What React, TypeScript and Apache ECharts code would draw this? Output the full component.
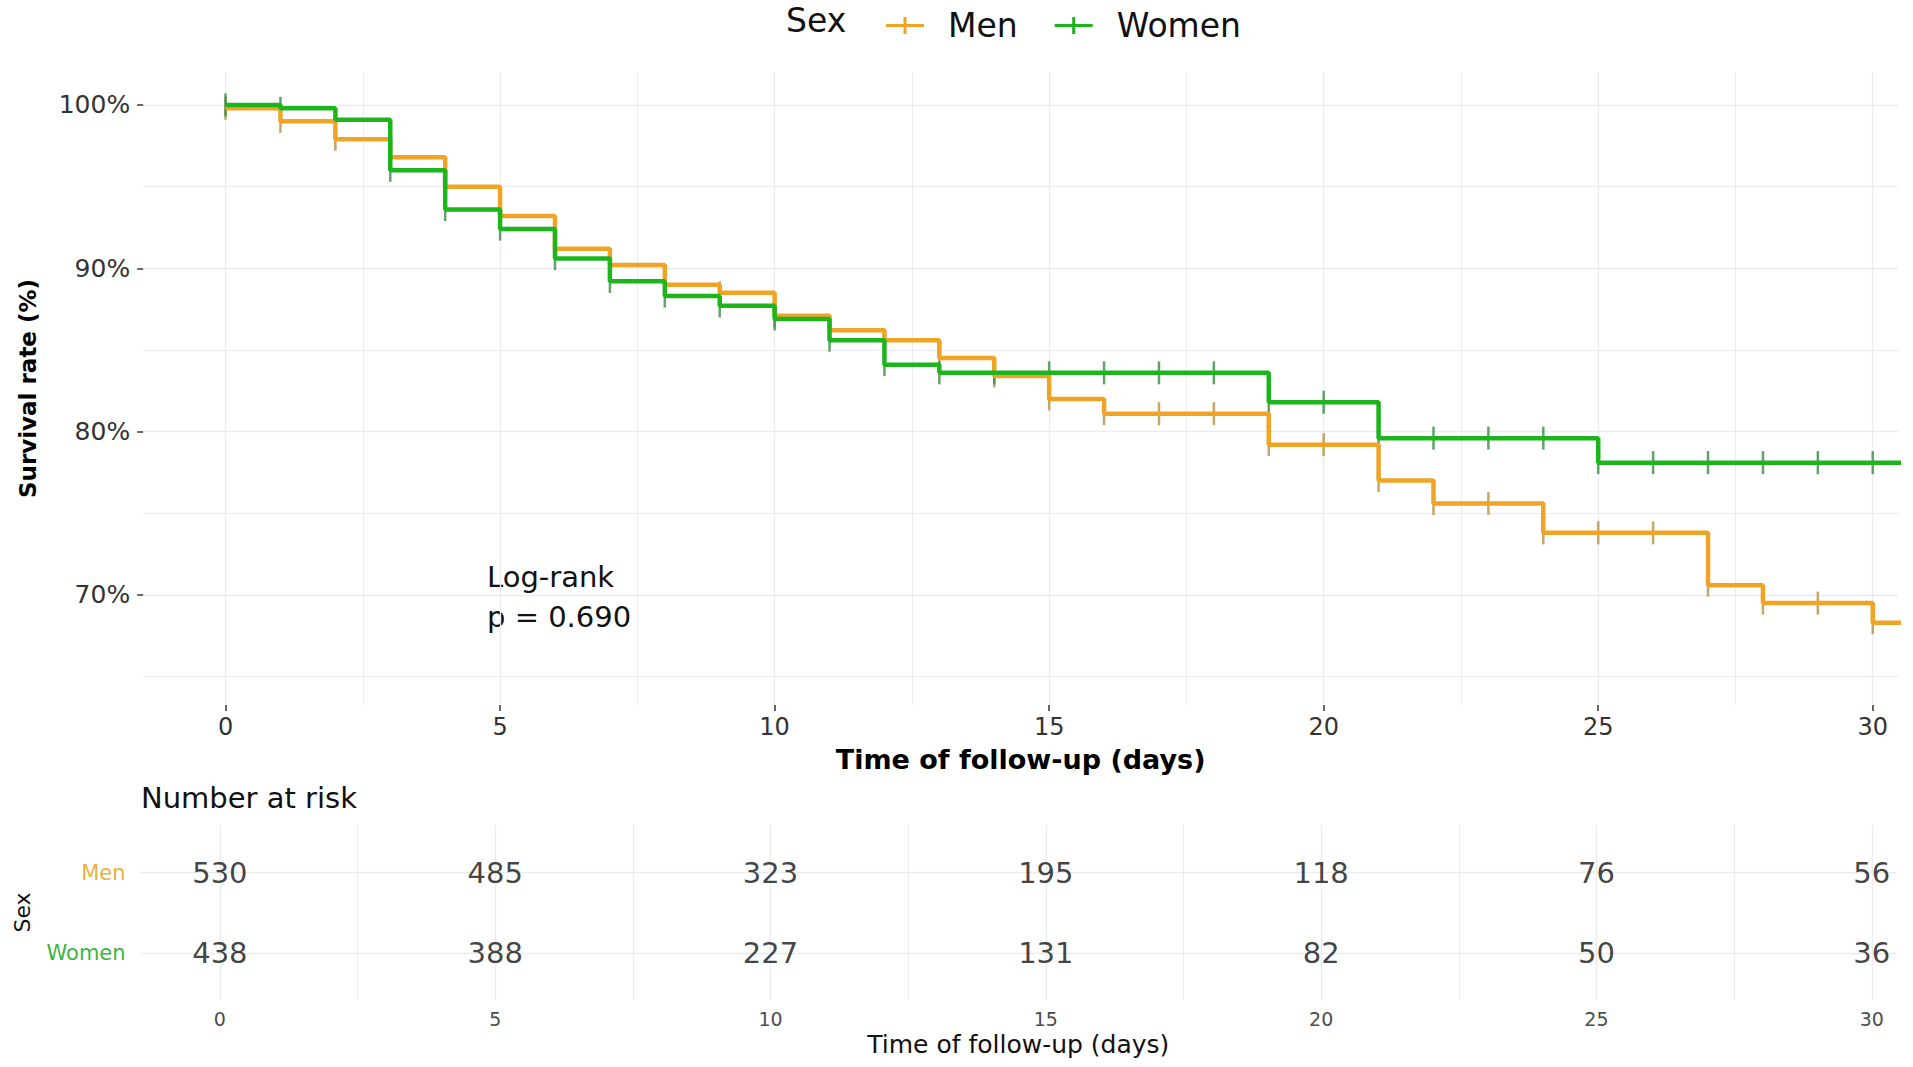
import React, { useEffect, useRef } from "react";
import * as echarts from "echarts";

// ---- data ----
const days = [0, 1, 2, 3, 4, 5, 6, 7, 8, 9, 10, 11, 12, 13, 14, 15, 16, 17, 18, 19, 20, 21, 22, 23, 24, 25, 26, 27, 28, 29, 30];
const menSurvival = [99.8, 99.0, 97.9, 96.8, 95.0, 93.2, 91.2, 90.2, 89.0, 88.5, 87.1, 86.2, 85.6, 84.5, 83.4, 82.0, 81.1, 81.1, 81.1, 79.2, 79.2, 77.0, 75.6, 75.6, 73.8, 73.8, 73.8, 70.6, 69.5, 69.5, 68.3];
const womenSurvival = [100, 99.8, 99.1, 96.0, 93.6, 92.4, 90.6, 89.2, 88.3, 87.7, 86.9, 85.6, 84.1, 83.6, 83.6, 83.6, 83.6, 83.6, 83.6, 81.8, 81.8, 79.6, 79.6, 79.6, 79.6, 78.1, 78.1, 78.1, 78.1, 78.1, 78.1];
const followUpEnd = 31;

const riskDays = [0, 5, 10, 15, 20, 25, 30];
const menAtRisk = [530, 485, 323, 195, 118, 76, 56];
const womenAtRisk = [438, 388, 227, 131, 82, 50, 36];
const riskGroups = ["Women", "Men"];

const majorXTicks = [0, 5, 10, 15, 20, 25, 30];
const minorXTicks = [2.5, 7.5, 12.5, 17.5, 22.5, 27.5];
const majorYTicks = [70, 80, 90, 100];
const minorYTicks = [65, 75, 85, 95];

const MEN = "#EFA425";
const WOMEN = "#1DB41D";
const MEN_TICK = "#B8913E";
const WOMEN_TICK = "#3A8C44";
const GRID = "#EBEBEB";
const FONT = "DejaVu Sans";

function stepData(vals: number[]) {
  const pts = days.map((d, i) => [d, vals[i]]);
  pts.push([followUpEnd, vals[vals.length - 1]]);
  return pts;
}

export default function App() {
  const ref = useRef<HTMLDivElement>(null);

  useEffect(() => {
    if (!ref.current) return;
    const chart = echarts.init(ref.current, undefined, { renderer: "svg" });

    const minorX = (gridIndex: number, min: number, max: number) => ({
      type: "value",
      gridIndex,
      position: "top",
      min,
      max,
      axisLine: { show: false, onZero: false },
      axisLabel: { show: false },
      axisTick: { show: false, customValues: minorXTicks },
      splitLine: { show: true, customValues: minorXTicks, lineStyle: { color: GRID, width: 1 } },
    });

    const atRiskLabel = {
      show: true,
      position: "inside",
      formatter: (p: any) => String(p.value[2]),
      fontSize: 29,
      color: "#111",
      fontFamily: FONT,
    };

    const option: any = {
      animation: false,
      backgroundColor: "#ffffff",
      textStyle: { fontFamily: FONT },
      legend: {
        data: ["Men", "Women"],
        left: 881,
        top: 4,
        icon: "path://M0,7H38V10H0ZM17.5,0H20.5V17H17.5Z",
        itemWidth: 38,
        itemHeight: 17,
        itemGap: 37,
        selectedMode: false,
        textStyle: { fontSize: 33, color: "#111", fontFamily: FONT, padding: [0, 0, 0, 19] },
      },
      graphic: [
        {
          type: "text",
          left: 786,
          top: 4,
          style: { text: "Sex", fontSize: 33, fill: "#111", fontFamily: FONT },
        },
        {
          type: "text",
          x: 487,
          y: 557,
          style: {
            text: "Log-rank\np = 0.690",
            fontSize: 29,
            lineHeight: 40,
            fill: "#111",
            fontFamily: FONT,
            verticalAlign: "top",
          },
        },
        {
          type: "text",
          x: 141,
          y: 798,
          style: { text: "Number at risk", fontSize: 29, fill: "#111", fontFamily: FONT, verticalAlign: "middle" },
        },
      ],
      grid: [
        { left: 143.2, top: 72, width: 1754.8, height: 633, containLabel: false, outerBoundsMode: "none" },
        { left: 140.6, top: 825, width: 1755.4, height: 175, containLabel: false, outerBoundsMode: "none" },
      ],
      xAxis: [
        {
          type: "value",
          gridIndex: 0,
          position: "bottom",
          min: -1.5,
          max: 30.46,
          axisLine: { show: false, onZero: false },
          axisTick: { show: true, length: 6, customValues: majorXTicks, lineStyle: { color: "#333", width: 1.5 } },
          axisLabel: { customValues: majorXTicks, fontSize: 24, color: "#333", margin: 10, fontFamily: FONT },
          splitLine: { show: true, customValues: majorXTicks, lineStyle: { color: GRID, width: 1.3 } },
          name: "Time of follow-up (days)",
          nameLocation: "middle",
          nameGap: 41,
          nameTextStyle: { fontSize: 27, fontWeight: "bold", color: "#000", fontFamily: FONT },
        },
        minorX(0, -1.5, 30.46),
        {
          type: "value",
          gridIndex: 1,
          position: "bottom",
          min: -1.44,
          max: 30.44,
          axisLine: { show: false, onZero: false },
          axisTick: { show: false, customValues: majorXTicks },
          axisLabel: { customValues: majorXTicks, fontSize: 19, color: "#4D4D4D", margin: 9, fontFamily: FONT },
          splitLine: { show: true, customValues: majorXTicks, lineStyle: { color: GRID, width: 1.3 } },
          name: "Time of follow-up (days)",
          nameLocation: "middle",
          nameGap: 32,
          nameTextStyle: { fontSize: 25, color: "#111", fontFamily: FONT },
        },
        minorX(1, -1.44, 30.44),
      ],
      yAxis: [
        {
          type: "value",
          gridIndex: 0,
          position: "left",
          min: 63.26,
          max: 102.02,
          axisLine: { show: false, onZero: false },
          axisTick: { show: true, length: 6, customValues: majorYTicks, lineStyle: { color: "#333", width: 1.5 } },
          axisLabel: { customValues: majorYTicks, formatter: "{value}%", fontSize: 25, color: "#333", margin: 13, fontFamily: FONT },
          splitLine: { show: true, customValues: majorYTicks, lineStyle: { color: GRID, width: 1.3 } },
          name: "Survival rate (%)",
          nameLocation: "middle",
          nameRotate: 90,
          nameGap: 104,
          nameTextStyle: { fontSize: 23, fontWeight: "bold", color: "#000", fontFamily: FONT },
        },
        {
          type: "value",
          gridIndex: 0,
          position: "right",
          min: 63.26,
          max: 102.02,
          axisLine: { show: false, onZero: false },
          axisLabel: { show: false },
          axisTick: { show: false, customValues: minorYTicks },
          splitLine: { show: true, customValues: minorYTicks, lineStyle: { color: GRID, width: 1 } },
        },
        {
          type: "value",
          gridIndex: 1,
          position: "left",
          min: 0.42,
          max: 2.59,
          axisLine: { show: false, onZero: false },
          axisTick: { show: false, customValues: [1, 2] },
          axisLabel: {
            customValues: [1, 2],
            margin: 15,
            fontSize: 21,
            fontFamily: FONT,
            formatter: (v: number) => (riskGroups[v - 1] === "Men" ? "{m|Men}" : "{w|Women}"),
            rich: {
              m: { color: "#E9B03F", fontSize: 21, fontFamily: FONT },
              w: { color: "#3DB53D", fontSize: 21, fontFamily: FONT },
            },
          },
          splitLine: { show: true, customValues: [1, 2], lineStyle: { color: GRID, width: 1.3 } },
          name: "Sex",
          nameLocation: "middle",
          nameRotate: 90,
          nameGap: 107,
          nameTextStyle: { fontSize: 22, color: "#111", fontFamily: FONT },
        },
      ],
      series: [
        {
          name: "Men",
          type: "line",
          xAxisIndex: 0,
          yAxisIndex: 0,
          step: "end",
          symbol: "none",
          clip: true,
          data: stepData(menSurvival),
          itemStyle: { color: MEN },
          lineStyle: { color: MEN, width: 4.5 },
        },
        {
          name: "Women",
          type: "line",
          xAxisIndex: 0,
          yAxisIndex: 0,
          step: "end",
          symbol: "none",
          clip: true,
          data: stepData(womenSurvival),
          itemStyle: { color: WOMEN },
          lineStyle: { color: WOMEN, width: 4.5 },
        },
        {
          name: "Men censored",
          type: "scatter",
          xAxisIndex: 0,
          yAxisIndex: 0,
          symbol: "rect",
          symbolSize: [2.5, 23],
          data: days.map((d, i) => [d, menSurvival[i]]),
          itemStyle: { color: MEN_TICK },
        },
        {
          name: "Women censored",
          type: "scatter",
          xAxisIndex: 0,
          yAxisIndex: 0,
          symbol: "rect",
          symbolSize: [2.5, 23],
          data: days.map((d, i) => [d, womenSurvival[i]]),
          itemStyle: { color: WOMEN_TICK },
        },
        {
          name: "Men at risk",
          type: "scatter",
          xAxisIndex: 2,
          yAxisIndex: 2,
          symbolSize: 1,
          itemStyle: { color: "rgba(0,0,0,0)" },
          data: riskDays.map((d, i) => [d, riskGroups.indexOf("Men") + 1, menAtRisk[i]]),
          label: atRiskLabel,
        },
        {
          name: "Women at risk",
          type: "scatter",
          xAxisIndex: 2,
          yAxisIndex: 2,
          symbolSize: 1,
          itemStyle: { color: "rgba(0,0,0,0)" },
          data: riskDays.map((d, i) => [d, riskGroups.indexOf("Women") + 1, womenAtRisk[i]]),
          label: atRiskLabel,
        },
      ],
    };

    chart.setOption(option);
    return () => chart.dispose();
  }, []);

  return (
    <div
      ref={ref}
      style={{ position: "absolute", left: 0, top: 0, width: 1913, height: 1067, background: "#fff" }}
    />
  );
}
